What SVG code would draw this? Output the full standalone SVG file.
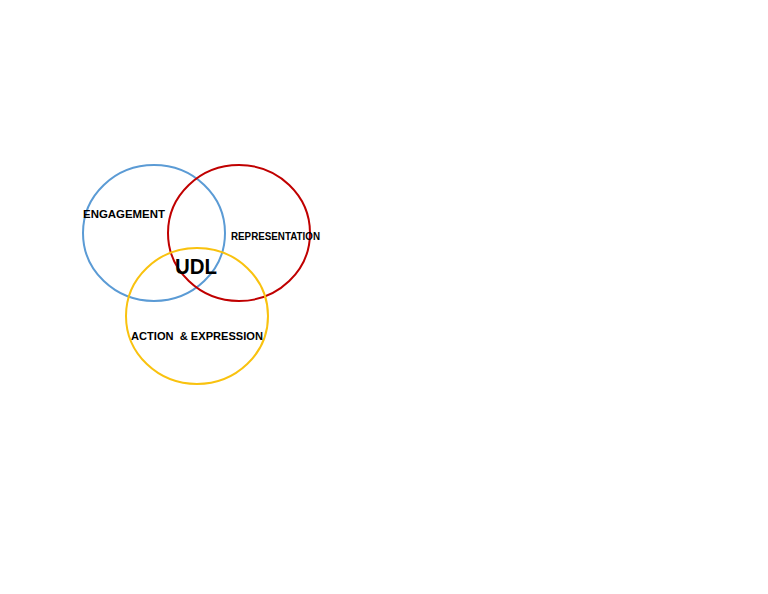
<svg xmlns="http://www.w3.org/2000/svg" width="768" height="594" viewBox="0 0 768 594">
<style>
.c{fill:none;stroke-width:2}
.t{font-family:"Liberation Sans",Arial,sans-serif;font-weight:bold;fill:#000}
</style>
<rect width="768" height="594" fill="#fff"/>
<g id="engagement"><ellipse class="c" cx="154" cy="233" rx="71" ry="68" stroke="#5b9bd5"/></g>
<g id="representation"><ellipse class="c" cx="239" cy="233" rx="71" ry="68" stroke="#c00000"/></g>
<g id="action"><ellipse class="c" cx="197" cy="316" rx="71" ry="68" stroke="#f9c20f"/></g>
<g id="labels">
<text class="t" x="83" y="218" font-size="11" textLength="82" lengthAdjust="spacingAndGlyphs">ENGAGEMENT</text>
<text class="t" x="231" y="240" font-size="10" textLength="89" lengthAdjust="spacingAndGlyphs">REPRESENTATION</text>
<text class="t" x="175" y="274" font-size="22" textLength="42" lengthAdjust="spacingAndGlyphs">UDL</text>
<text class="t" x="131" y="340" font-size="11" textLength="132" lengthAdjust="spacingAndGlyphs" xml:space="preserve">ACTION  &amp; EXPRESSION</text>
</g>
</svg>
